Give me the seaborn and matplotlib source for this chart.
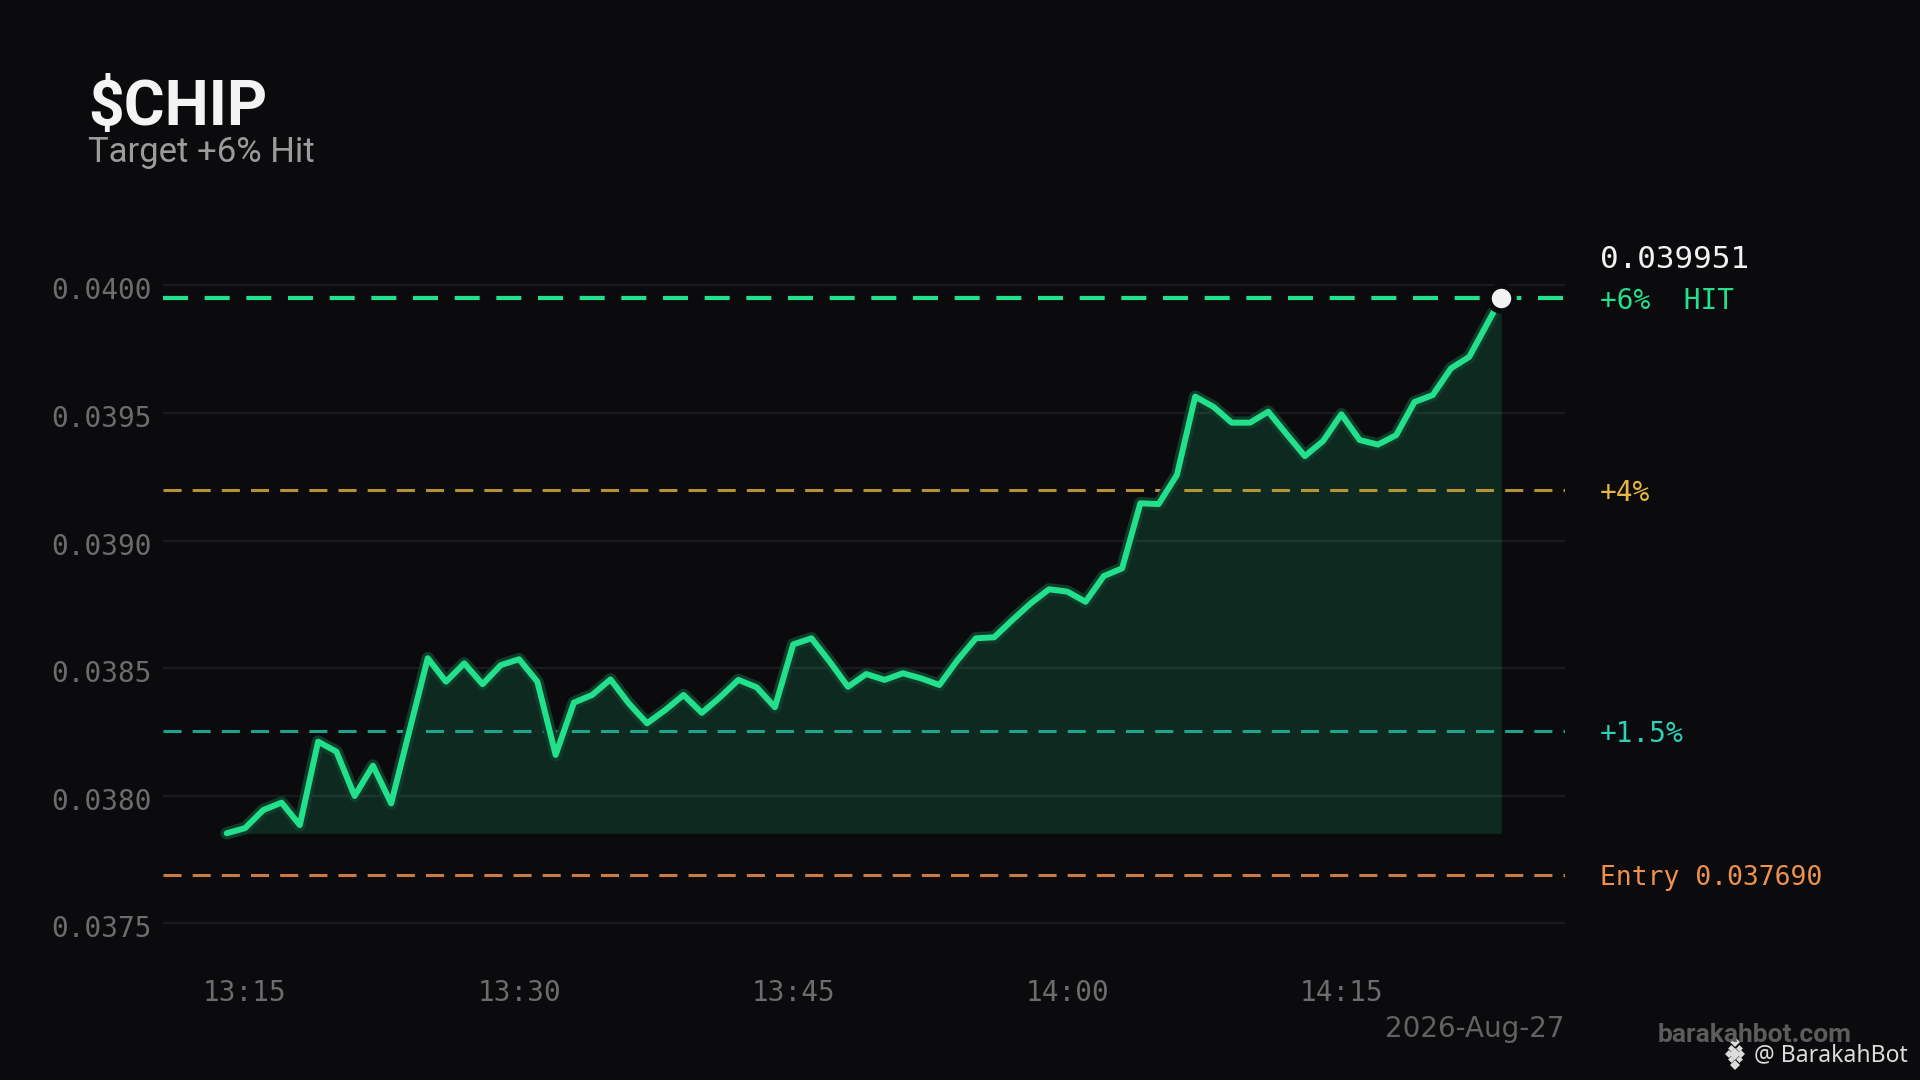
import matplotlib
matplotlib.use("Agg")
import matplotlib.pyplot as plt
import matplotlib.dates as mdates
import matplotlib.patheffects as pe
import matplotlib.transforms as mtransforms
from matplotlib.lines import Line2D
from matplotlib.ticker import FixedLocator, FuncFormatter
import pandas as pd
import seaborn as sns

# ---------------- data ----------------
TICKER = "$CHIP"
SUBTITLE = "Target +6% Hit"
DATE_LABEL = "2026-Aug-27"
ENTRY = 0.037690
LAST_PRICE = 0.039951
LEVEL_LABELS = ["+1.5%", "+4%", "+6%  HIT"]
LEVEL_PCTS = [1.5, 4.0, 6.0]
ENTRY_LABEL = "Entry 0.037690"
LAST_LABEL = "0.039951"
Y_TICKS = [0.0375, 0.0380, 0.0385, 0.0390, 0.0395, 0.0400]
X_TICK_MINUTES = [0, 15, 30, 45]

minute_times = list(pd.date_range("2026-08-27 13:14", periods=69, freq="min"))
last_time = pd.Timestamp("2026-08-27 14:23:45")
times = minute_times + [last_time]

prices = [
    0.037853, 0.037873, 0.037944, 0.037973, 0.037885, 0.038212, 0.038173, 0.037999,
    0.038118, 0.037970, 0.038255, 0.038539, 0.038447, 0.038519, 0.038437, 0.038512,
    0.038535, 0.038447, 0.038160, 0.038365, 0.038395, 0.038456, 0.038362, 0.038284,
    0.038336, 0.038395, 0.038325, 0.038386, 0.038454, 0.038425, 0.038347, 0.038593,
    0.038617, 0.038525, 0.038427, 0.038477, 0.038454, 0.038480, 0.038460, 0.038434,
    0.038532, 0.038617, 0.038621, 0.038689, 0.038754, 0.038809, 0.038800, 0.038760,
    0.038861, 0.038891, 0.039146, 0.039143, 0.039257, 0.039564, 0.039524, 0.039462,
    0.039462, 0.039505, 0.039417, 0.039331, 0.039390, 0.039495, 0.039394, 0.039376,
    0.039413, 0.039543, 0.039570, 0.039675, 0.039720, 0.039951,
]

# ---------------- style ----------------
BG = "#0b0b0e"
GREEN = "#22e08c"
GRID = "#1b1b1f"
TICK_GREY = "#6c6c6c"
LEVEL_LINE_COLORS = ["#22b39c", "#c9a23a", GREEN]
LEVEL_TEXT_COLORS = ["#2cd2b6", "#e8b640", GREEN]
ENTRY_LINE = "#e0884a"
ENTRY_TEXT = "#f0924c"
MONO = "DejaVu Sans Mono"

sns.set_theme(style="dark")
plt.rcParams.update({
    "figure.facecolor": BG,
    "axes.facecolor": BG,
    "savefig.facecolor": BG,
    "lines.scale_dashes": False,
})
plt.rcParams["font.family"] = ["DejaVu Sans"]

df = pd.DataFrame({"time": times, "price": prices})

fig = plt.figure(figsize=(19.2, 10.8), dpi=100)
ax = fig.add_axes([0.0849, 0.1096, 0.7302, 0.6498])
ax.set_facecolor(BG)
for s in ax.spines.values():
    s.set_visible(False)

# fill under the line
base = min(prices)
ax.fill_between(df["time"], df["price"], base, color=GREEN, alpha=0.15, linewidth=0, zorder=1)

# level lines
for pct, col in zip(LEVEL_PCTS, LEVEL_LINE_COLORS):
    val = ENTRY * (1 + pct / 100.0)
    if pct == 6.0:
        ax.axhline(val, color=col, linewidth=3.0, dashes=(18, 12), zorder=2)
    else:
        ax.axhline(val, color=col, linewidth=2.2, alpha=0.9, dashes=(13, 8), zorder=2)
ax.axhline(ENTRY, color=ENTRY_LINE, linewidth=2.2, alpha=0.9, dashes=(13, 8), zorder=2)

# main price line
sns.lineplot(data=df, x="time", y="price", ax=ax, color=GREEN, linewidth=4.3, zorder=4,
             path_effects=[pe.Stroke(linewidth=9, foreground="#0f3b2a"), pe.Normal()])

# last point marker
ax.plot([last_time], [LAST_PRICE], marker="o", markersize=18, markerfacecolor="#f2f2f2",
        markeredgecolor=BG, markeredgewidth=4, zorder=6, linestyle="none")

ax.set_ylim(0.03735, 0.04010)
ax.set_xlabel("")
ax.set_ylabel("")
ax.yaxis.set_major_locator(FixedLocator(Y_TICKS))
ax.grid(axis="y", color=GRID, linewidth=1.6, zorder=0)
ax.grid(axis="x", visible=False)
ax.xaxis.set_major_locator(mdates.MinuteLocator(byminute=X_TICK_MINUTES))
ax.xaxis.set_major_formatter(mdates.DateFormatter("%H:%M"))
ax.yaxis.set_major_formatter(FuncFormatter(lambda v, p: f"{v:.4f}"))
ax.tick_params(axis="both", length=0, colors=TICK_GREY, labelsize=20)
ax.tick_params(axis="x", pad=12.5)
ax.tick_params(axis="y", pad=8)
for lbl in ax.get_xticklabels() + ax.get_yticklabels():
    lbl.set_fontfamily(MONO)
    lbl.set_color(TICK_GREY)
shift = mtransforms.ScaledTranslation(0, -3.0 / 100, fig.dpi_scale_trans)
for tick in ax.yaxis.get_major_ticks():
    tick.label1.set_transform(tick.label1.get_transform() + shift)

# right-side labels
trans = mtransforms.blended_transform_factory(ax.transAxes, ax.transData)
LX = 1.0250
for pct, lab, tcol in zip(LEVEL_PCTS, LEVEL_LABELS, LEVEL_TEXT_COLORS):
    val = ENTRY * (1 + pct / 100.0)
    ax.text(LX, val, lab, transform=trans, color=tcol, fontsize=20,
            family=MONO, va="center_baseline", ha="left", clip_on=False)
ax.text(LX, ENTRY, ENTRY_LABEL, transform=trans, color=ENTRY_TEXT, fontsize=19,
        family=MONO, va="center_baseline", ha="left", clip_on=False)
ax.annotate(LAST_LABEL, xy=(LX, ENTRY * 1.06), xycoords=trans, xytext=(0, 29.5),
            textcoords="offset points", color="#f2f2f2", fontsize=22.3, family=MONO,
            va="center_baseline", ha="left", annotation_clip=False)

# titles
fig.text(0.0458, 0.8843, TICKER, color="#f4f4f4", fontsize=45, fontweight="bold",
         family="Roboto", va="baseline", ha="left")
fig.text(0.0458, 0.8503, SUBTITLE, color="#9b9b9b", fontsize=24.9,
         family="Roboto", va="baseline", ha="left")

# footer
fig.text(0.8146, 0.0395, DATE_LABEL, color="#626262", fontsize=20,
         family="DejaVu Sans", va="baseline", ha="right")
fig.text(0.9644, 0.0355, "barakahbot.com", color="#5c5c5c", fontsize=19,
         family="Roboto", fontweight="bold", va="baseline", ha="right")
# small diamond logo (drawn as markers)
LOGO_X, LOGO_Y = 0.9036, 0.0245
for dx, dy, ms in [(0, 0, 6), (0, 0.0105, 5), (0, -0.0105, 5), (-0.0033, 0, 4), (0.0033, 0, 4),
                   (-0.0019, 0.0055, 3.5), (0.0019, 0.0055, 3.5), (-0.0019, -0.0055, 3.5), (0.0019, -0.0055, 3.5)]:
    fig.add_artist(Line2D([LOGO_X + dx], [LOGO_Y + dy], marker="D", markersize=ms,
                          color="#dcdcdc", markeredgewidth=0, linestyle="none",
                          transform=fig.transFigure))
fig.text(0.9135, 0.017, "@ BarakahBot", color="#dcdcdc", fontsize=16.5,
         family="Noto Sans", va="baseline", ha="left")

fig.savefig("out.png", dpi=100, facecolor=BG)
